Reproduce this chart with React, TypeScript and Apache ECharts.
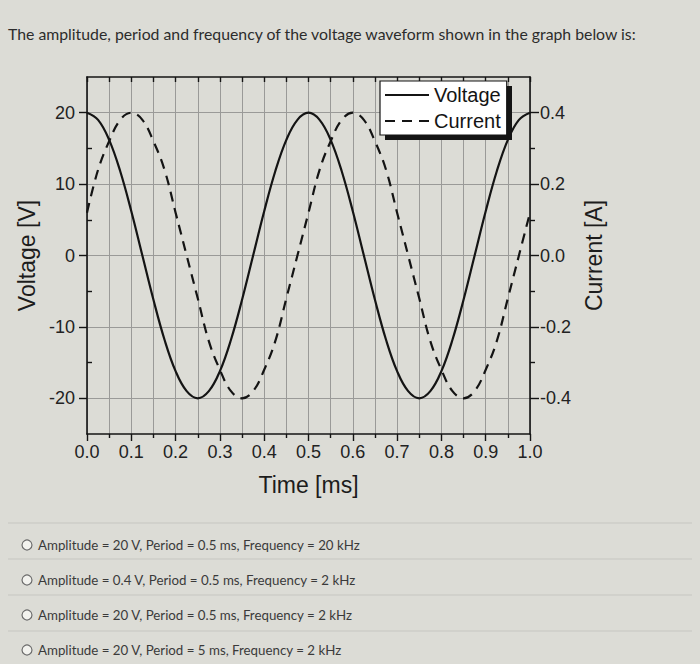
import React, { useEffect, useRef } from "react";
import * as echarts from "echarts";

// ---- data ----
const timeMs = [
  0, 0.025, 0.05, 0.075, 0.1, 0.125, 0.15, 0.175, 0.2, 0.225,
  0.25, 0.275, 0.3, 0.325, 0.35, 0.375, 0.4, 0.425, 0.45, 0.475,
  0.5, 0.525, 0.55, 0.575, 0.6, 0.625, 0.65, 0.675, 0.7, 0.725,
  0.75, 0.775, 0.8, 0.825, 0.85, 0.875, 0.9, 0.925, 0.95, 0.975, 1.0,
];
const voltageV = [
  20, 19.0, 16.2, 11.8, 6.2, 0, -6.2, -11.8, -16.2, -19.0,
  -20, -19.0, -16.2, -11.8, -6.2, 0, 6.2, 11.8, 16.2, 19.0,
  20, 19.0, 16.2, 11.8, 6.2, 0, -6.2, -11.8, -16.2, -19.0,
  -20, -19.0, -16.2, -11.8, -6.2, 0, 6.2, 11.8, 16.2, 19.0, 20,
];
const currentA = [
  0.12, 0.24, 0.32, 0.38, 0.4, 0.38, 0.32, 0.24, 0.12, 0.0,
  -0.12, -0.24, -0.32, -0.38, -0.4, -0.38, -0.32, -0.24, -0.12, 0.0,
  0.12, 0.24, 0.32, 0.38, 0.4, 0.38, 0.32, 0.24, 0.12, 0.0,
  -0.12, -0.24, -0.32, -0.38, -0.4, -0.38, -0.32, -0.24, -0.12, 0.0, 0.12,
];
const voltageTickLabels = [-20, -10, 0, 10, 20];
const voltageMinorTicks = [-15, -5, 5, 15];
const currentTickLabels = [-0.4, -0.2, 0, 0.2, 0.4];
const currentMinorTicks = [-0.3, -0.1, 0.1, 0.3];
const seriesNames = ["Voltage", "Current"];
const questionText =
  "The amplitude, period and frequency of the voltage waveform shown in the graph below is:";
const answerOptions = [
  "Amplitude = 20 V, Period = 0.5 ms, Frequency = 20 kHz",
  "Amplitude = 0.4 V, Period = 0.5 ms, Frequency = 2 kHz",
  "Amplitude = 20 V, Period = 0.5 ms, Frequency = 2 kHz",
  "Amplitude = 20 V, Period = 5 ms, Frequency = 2 kHz",
];

const CHART_FONT = '"Liberation Sans", Arial, sans-serif';
const PAGE_FONT = 'Lato, "Open Sans", sans-serif';
const BLACK = "#141414";
const GRID = "#9a9a98";
const BG = "#dcdcd6";

export default function App() {
  const ref = useRef<HTMLDivElement>(null);

  useEffect(() => {
    if (!ref.current) return;
    const chart = echarts.init(ref.current, undefined, { renderer: "svg" });

    const axisLine = { show: true, onZero: false, lineStyle: { color: BLACK, width: 1.6 } };
    const tickStyle = { color: BLACK, width: 1.4 };

    const graphic: any[] = [
      {
        type: "text",
        x: 8,
        y: 33,
        style: {
          text: questionText,
          font: `15.8px ${PAGE_FONT}`,
          fill: "#2c2c2c",
          verticalAlign: "middle",
        },
      },
      {
        type: "rect",
        z: 3,
        shape: { x: 385, y: 86, width: 127, height: 54 },
        style: { fill: BLACK },
      },
    ];
    const sepY = [523, 559, 595, 631];
    sepY.forEach((y) => {
      graphic.push({
        type: "line",
        shape: { x1: 8, y1: y, x2: 692, y2: y },
        style: { stroke: "#c6c6c1", lineWidth: 1 },
      });
    });
    answerOptions.forEach((t, i) => {
      const cy = 545 + i * 35;
      graphic.push({
        type: "circle",
        shape: { cx: 27, cy, r: 5 },
        style: { fill: "#f2f2ee", stroke: "#6c6c6c", lineWidth: 1.2 },
      });
      graphic.push({
        type: "text",
        x: 38,
        y: cy,
        style: {
          text: t,
          font: `13.3px ${PAGE_FONT}`,
          fill: "#3a3a3a",
          verticalAlign: "middle",
        },
      });
    });

    const option: any = {
      animation: false,
      backgroundColor: BG,
      grid: { left: 87, right: 170, top: 77, bottom: 230, containLabel: false },
      legend: {
        show: true,
        data: seriesNames,
        orient: "vertical",
        left: 380,
        top: 81,
        itemWidth: 44,
        itemHeight: 14,
        itemGap: 4,
        padding: [3, 6, 3, 4],
        backgroundColor: "#ffffff",
        borderColor: BLACK,
        borderWidth: 1.2,
        selectedMode: false,
        z: 4,
        itemStyle: { color: "transparent", borderWidth: 0, opacity: 0 },
        textStyle: { fontSize: 20, lineHeight: 22, color: BLACK, fontFamily: CHART_FONT },
      },
      xAxis: [
        {
          type: "value",
          position: "bottom",
          min: 0,
          max: 1,
          interval: 0.1,
          axisLine,
          axisTick: { show: true, length: 7, lineStyle: tickStyle },
          minorTick: { show: true, splitNumber: 2, length: 4, lineStyle: tickStyle },
          axisLabel: {
            formatter: (v: number) => v.toFixed(1),
            fontSize: 18,
            color: "#222",
            margin: 9,
            fontFamily: CHART_FONT,
          },
          splitLine: { show: true, lineStyle: { color: GRID, width: 1 } },
          minorSplitLine: { show: true, lineStyle: { color: GRID, width: 1 } },
          name: "Time [ms]",
          nameLocation: "middle",
          nameGap: 39,
          nameTextStyle: { fontSize: 23, color: "#1c1c1c", fontFamily: CHART_FONT },
        },
        {
          type: "value",
          position: "top",
          min: 0,
          max: 1,
          interval: 0.05,
          axisLine,
          axisTick: { show: true, inside: true, length: 5, lineStyle: tickStyle },
          axisLabel: { show: false },
          splitLine: { show: false },
        },
      ],
      yAxis: [
        {
          type: "value",
          position: "left",
          min: -25,
          max: 25,
          interval: 5,
          axisLine,
          axisTick: { show: true, length: 8, customValues: voltageTickLabels, lineStyle: tickStyle },
          axisLabel: {
            customValues: voltageTickLabels,
            formatter: (v: number) => String(v),
            fontSize: 18,
            color: "#222",
            margin: 12,
            fontFamily: CHART_FONT,
          },
          splitLine: { show: true, lineStyle: { color: GRID, width: 1 } },
          name: "Voltage [V]",
          nameLocation: "middle",
          nameRotate: 90,
          nameGap: 44,
          nameTextStyle: { fontSize: 23, color: "#1c1c1c", fontFamily: CHART_FONT },
        },
        {
          type: "value",
          position: "left",
          min: -25,
          max: 25,
          interval: 5,
          axisLine: { show: false, onZero: false },
          axisTick: { show: true, inside: true, length: 5, customValues: voltageMinorTicks, lineStyle: tickStyle },
          axisLabel: { show: false },
          splitLine: { show: false },
        },
        {
          type: "value",
          position: "right",
          min: -0.5,
          max: 0.5,
          interval: 0.1,
          axisLine,
          axisTick: { show: true, length: 9, customValues: currentTickLabels, lineStyle: tickStyle },
          axisLabel: {
            customValues: currentTickLabels,
            formatter: (v: number) => v.toFixed(1),
            fontSize: 18,
            color: "#222",
            margin: 10,
            fontFamily: CHART_FONT,
          },
          splitLine: { show: false },
          name: "Current [A]",
          nameLocation: "middle",
          nameRotate: 90,
          nameGap: 52,
          nameTextStyle: { fontSize: 23, color: "#1c1c1c", fontFamily: CHART_FONT },
        },
        {
          type: "value",
          position: "right",
          min: -0.5,
          max: 0.5,
          interval: 0.1,
          axisLine: { show: false, onZero: false },
          axisTick: { show: true, length: 5, customValues: currentMinorTicks, lineStyle: tickStyle },
          axisLabel: { show: false },
          splitLine: { show: false },
        },
      ],
      series: [
        {
          name: seriesNames[0],
          type: "line",
          xAxisIndex: 0,
          yAxisIndex: 0,
          data: timeMs.map((t, i) => [t, voltageV[i]]),
          smooth: 0.4,
          symbol: "none",
          lineStyle: { color: BLACK, width: 2.2 },
          itemStyle: { color: BLACK },
          z: 2,
        },
        {
          name: seriesNames[1],
          type: "line",
          xAxisIndex: 0,
          yAxisIndex: 2,
          data: timeMs.map((t, i) => [t, currentA[i]]),
          smooth: 0.4,
          symbol: "none",
          lineStyle: { color: BLACK, width: 2.2, type: [10, 7] },
          itemStyle: { color: BLACK },
          z: 2,
        },
      ],
      graphic,
    };

    chart.setOption(option);
    return () => chart.dispose();
  }, []);

  return (
    <div
      ref={ref}
      style={{ position: "fixed", left: 0, top: 0, width: 700, height: 664, background: BG }}
    />
  );
}
